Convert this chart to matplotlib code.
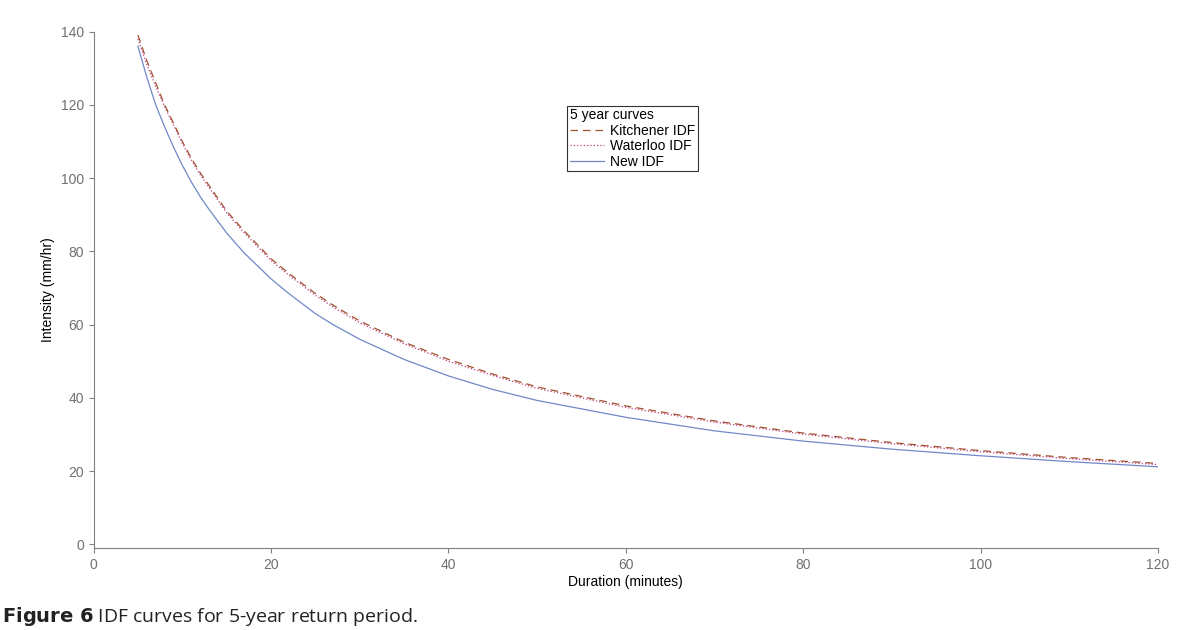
import matplotlib
matplotlib.use("Agg")
import matplotlib.pyplot as plt

duration = [5, 6, 7, 8, 9, 10, 11, 12, 13, 15, 17, 20, 22, 25, 27, 30, 35, 40, 45, 50, 60, 70, 80, 90, 100, 110, 120]
new_idf = [136, 127.5, 120, 114, 108.5, 103.5, 99, 95, 91.5, 85, 79.5, 72.5, 68.5, 63, 60, 56, 50.5, 46, 42.3, 39.3, 34.7, 31, 28.2, 26, 24.2, 22.6, 21.2]
kitchener = [139, 132, 126, 120, 115, 110, 105.5, 101.5, 98, 91, 85.5, 78, 74, 68.5, 65.3, 61, 55.2, 50.5, 46.5, 43, 37.8, 33.7, 30.4, 27.8, 25.6, 23.7, 22.1]
waterloo = [138, 131, 125, 119.5, 114.5, 109.5, 105, 101, 97.5, 90.5, 85, 77.5, 73.5, 68, 64.8, 60.5, 54.8, 50, 46.1, 42.6, 37.4, 33.4, 30.1, 27.5, 25.3, 23.4, 21.8]

plt.rcParams['font.family'] = ['Liberation Sans', 'DejaVu Sans']
fig = plt.figure(figsize=(12, 6.3), dpi=100)
ax = fig.add_axes([0.078, 0.13, 0.887, 0.82])
ax.plot(duration, kitchener, color='#a0522d', lw=0.9, dashes=(6, 4), label='Kitchener IDF')
ax.plot(duration, waterloo, color='#c04080', lw=0.9, ls=':', label='Waterloo IDF')
ax.plot(duration, new_idf, color='#7088c8', lw=0.9, label='New IDF')
ax.set_xlim(0, 120)
ax.set_ylim(-1, 140)
ax.set_xticks(range(0, 121, 20))
ax.set_yticks(range(0, 141, 20))
for s in ['top', 'right']:
    ax.spines[s].set_visible(False)
for s in ['left', 'bottom']:
    ax.spines[s].set_color('#808080')
ax.tick_params(colors='#808080', labelsize=10, labelcolor='#707070')
ax.set_xlabel('Duration (minutes)', fontsize=10, labelpad=2)
ax.set_ylabel('Intensity (mm/hr)', fontsize=10)
leg = ax.legend(title='5 year curves', loc='upper left', bbox_to_anchor=(0.438, 0.87),
                frameon=True, fancybox=False, fontsize=10, title_fontsize=10,
                borderpad=0.2, labelspacing=0.1, handlelength=2.5, handletextpad=0.4)
leg._legend_box.align = 'left'
leg.get_frame().set_edgecolor('black')
leg.get_frame().set_linewidth(0.8)
fig.text(0.002, 0.012, r'$\bf{Figure\ 6}$ IDF curves for 5-year return period.', fontsize=14,
         family=['Open Sans', 'DejaVu Sans'], color='#222222')
fig.savefig('out.png')
